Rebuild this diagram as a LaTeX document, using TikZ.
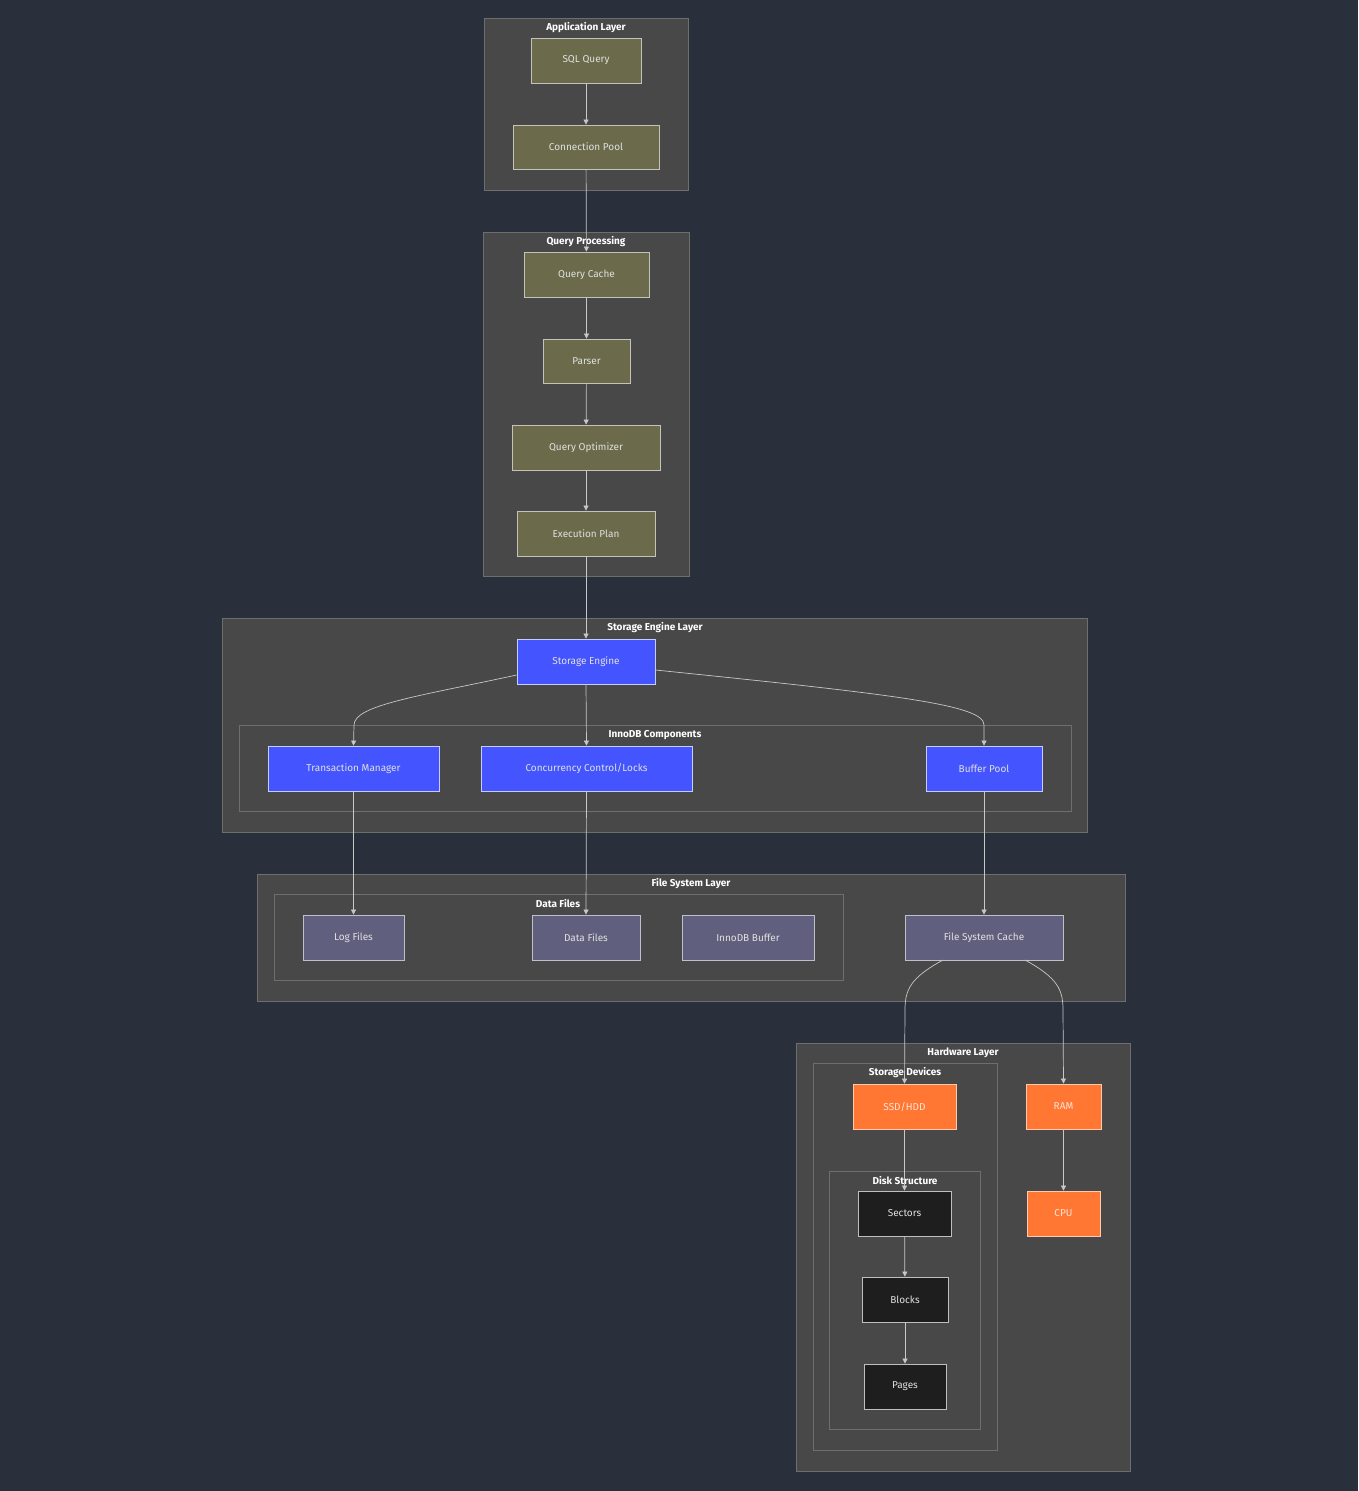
\documentclass[tikz,border=0pt]{standalone}
\usepackage{fontspec}
\setmainfont{Fira Sans}
\usetikzlibrary{arrows.meta}
\definecolor{bg}{HTML}{2A2F3C}
\definecolor{cl}{HTML}{484848}
\definecolor{clb}{HTML}{6E6E6E}
\definecolor{olive}{HTML}{6B6B4B}
\definecolor{blu}{HTML}{4455FF}
\definecolor{pur}{HTML}{60607E}
\definecolor{ora}{HTML}{FF7733}
\definecolor{blk}{HTML}{1E1E1E}
\definecolor{ln}{HTML}{C8C8C8}
\tikzset{
 box/.style={draw=#1,line width=0.8pt,inner sep=0pt,text=white!88!black,font=\fontsize{10}{12}\selectfont},
 ol/.style={box=black!15!white!80!olive,fill=olive},
 bl/.style={box=white!70!blu,fill=blu},
 pu/.style={box=white!60!pur,fill=pur},
 orr/.style={box=white!60!ora,fill=ora,text=white!80!ora},
 bk/.style={box=white!75!black,fill=blk},
 clus/.style={draw=clb,fill=cl,line width=0.8pt},
 clab/.style={text=white,font=\fontsize{10}{12}\selectfont\bfseries,inner sep=0pt},
 e/.style={draw=ln,line width=0.7pt,-{Triangle[length=5pt,width=5pt]}}
}
\newcommand{\Bx}[7]{\node[#6,minimum width=#3-#2,minimum height=#5-#4] (#1) at ({(#2+#3)/2},{(#4+#5)/2}) {#7};}
\newcommand{\Cl}[7]{\draw[clus] (#2,#4) rectangle (#3,#5); \node[clab] (#1) at (#6,#7) {\strut\vphantom{g}#1};}
\begin{document}
\begin{tikzpicture}[x=1pt,y=-1pt]
\fill[bg] (0,0) rectangle (1358,1491);
\useasboundingbox (0,0) rectangle (1358,1491);
\draw[clus] (484,18) rectangle (688,190); \node[clab] (l1) at (586,28) {Application Layer};
\draw[clus] (483,232) rectangle (689,576); \node[clab] (l2) at (586,242) {Query Processing};
\draw[clus] (222,618) rectangle (1087,832); \node[clab] (l3) at (655,628) {Storage Engine Layer};
\draw[clus] (239,725) rectangle (1071,811); \node[clab] (l4) at (655,735) {InnoDB Components};
\draw[clus] (257,874) rectangle (1125,1001); \node[clab] (l5) at (691,884) {File System Layer};
\draw[clus] (274,894) rectangle (843,980); \node[clab] (l6) at (558,904) {Data Files};
\draw[clus] (796,1043) rectangle (1130,1471); \node[clab] (l7) at (963,1053) {Hardware Layer};
\draw[clus] (813,1063) rectangle (997,1450); \node[clab] (l8) at (905,1073) {Storage Devices};
\draw[clus] (829,1171) rectangle (980,1429); \node[clab] (l9) at (905,1181) {Disk Structure};
\Bx{sql}{531}{641}{38}{83}{ol}{SQL Query}
\Bx{cp}{513}{659}{125}{169}{ol}{Connection Pool}
\Bx{qc}{524}{649}{252}{297}{ol}{Query Cache}
\Bx{pa}{543}{630}{339}{383}{ol}{Parser}
\Bx{qo}{512}{660}{425}{470}{ol}{Query Optimizer}
\Bx{ep}{517}{655}{511}{556}{ol}{Execution Plan}
\Bx{se}{517}{655}{639}{684}{bl}{Storage Engine}
\Bx{tm}{268}{439}{746}{791}{bl}{Transaction Manager}
\Bx{cc}{481}{692}{746}{791}{bl}{Concurrency Control/Locks}
\Bx{bp}{926}{1042}{746}{791}{bl}{Buffer Pool}
\Bx{lf}{303}{404}{915}{960}{pu}{Log Files}
\Bx{df}{532}{640}{915}{960}{pu}{Data Files}
\Bx{ib}{682}{814}{915}{960}{pu}{InnoDB Buffer}
\Bx{fc}{905}{1063}{915}{960}{pu}{File System Cache}
\Bx{ssd}{853}{956}{1084}{1129}{orr}{SSD/HDD}
\Bx{ram}{1026}{1101}{1084}{1129}{orr}{RAM}
\Bx{cpu}{1027}{1100}{1191}{1236}{orr}{CPU}
\Bx{sec}{858}{951}{1191}{1236}{bk}{Sectors}
\Bx{blo}{862}{948}{1277}{1322}{bk}{Blocks}
\Bx{pag}{864}{946}{1364}{1409}{bk}{Pages}
\draw[e] (sql) -- (cp);
\draw[e] (cp) -- (qc);
\draw[e] (qc) -- (pa);
\draw[e] (pa) -- (qo);
\draw[e] (qo) -- (ep);
\draw[e] (ep) -- (se);
\draw[e] (se.south) -- (cc.north);
\draw[e] (se.west|-0,675) .. controls (420,696) and (354,705) .. (354,725) -- (tm.north);
\draw[e] (se.east|-0,670) .. controls (900,695) and (984,705) .. (984,725) -- (bp.north);
\draw[e] (tm.south) -- (lf.north);
\draw[e] (cc.south) -- (df.north);
\draw[e] (bp.south) -- (fc.north);
\coordinate (f1) at (943,960); \coordinate (f2) at (1025,960);
\draw[e] (f1) .. controls (910,978) and (905,990) .. (905,1010) -- (ssd.north);
\draw[e] (f2) .. controls (1058,978) and (1063,990) .. (1063,1010) -- (ram.north);
\draw[e] (ssd) -- (sec);
\draw[e] (sec) -- (blo);
\draw[e] (blo) -- (pag);
\draw[e] (ram) -- (cpu);
\end{tikzpicture}
\end{document}
